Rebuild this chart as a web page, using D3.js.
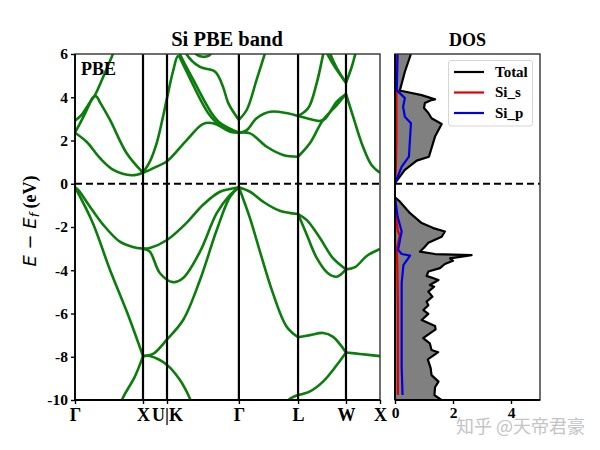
<!DOCTYPE html>
<html><head><meta charset="utf-8">
<style>html,body{margin:0;padding:0;background:#fff}svg{display:block}
text{font-family:"Liberation Serif",serif;font-weight:bold;fill:#000}</style>
<script src="https://cdn.jsdelivr.net/npm/d3@7"></script></head><body>
<script>
// High symmetry points
const kTicks=[0,1,1.353,2.41,3.28,3.985,4.485];
const kLabels=["Γ","X","U|K","Γ","L","W","X"];
const eTicks=[6,4,2,0,-2,-4,-6,-8,-10];
const dosTicks=[0,2,4];
// Bands: [k, E]
const bandGX=[
 [[0,2.36],[.17,1.94],[.37,1.18],[.565,.64],[.834,.39],[1,.51]],
 [[0,2.36],[.1,2.95],[.2,3.6],[.26,3.98],[.31,4.05],[.37,3.75],[.515,2.95],[.76,1.41],[1,.51]],
 [[0,2.92],[.1,3.2],[.2,3.68],[.294,4.1],[.416,4.95],[.565,6.05],[.6,6.3]],
 [[0,-.16],[.05,-.3],[.22,-1.06],[.416,-1.9],[.66,-2.68],[.85,-2.92],[1,-3]],
 [[0,-.16],[.26,-1.8],[.515,-3.99],[.76,-5.9],[1,-7.97]],
 [[.66,-10.5],[.69,-10],[.88,-8.92],[1,-7.97]]
];
const bandXK=[
 [[1,.51],[1.1,.64],[1.2,.79],[1.353,1.04],[1.643,2.02],[1.88,2.76],[2.03,2.8],[2.28,2.41],[2.41,2.36]],
 [[1,.51],[1.1,1.02],[1.2,1.87],[1.28,2.9],[1.353,3.96],[1.44,5.18],[1.515,5.9],[1.6,5.45],[1.70,4.8],[1.96,3.26],[2.13,2.7],[2.41,2.36]],
 [[1.5,6.3],[1.58,5.75],[1.74,4.8],[2.01,3.26],[2.13,2.82],[2.41,2.36]],
 [[1.6,6.4],[1.643,5.98],[1.838,5.4],[2.06,5.18],[2.176,4.49],[2.254,3.73],[2.41,2.95]],
 [[1.72,6.2],[1.8,5.95],[1.88,5.87],[1.97,5.93],[2.05,6.2]],
 [[1,-3],[1.1,-2.97],[1.353,-2.6],[1.643,-1.8],[1.88,-.98],[2.132,-.37],[2.28,-.24],[2.41,-.16]],
 [[1,-3],[1.1,-3.14],[1.25,-4.14],[1.44,-4.55],[1.59,-4.36],[1.838,-3.14],[2.084,-1.36],[2.28,-.52],[2.41,-.16]],
 [[1,-7.97],[1.147,-7.87],[1.353,-7.2],[1.59,-6.3],[1.838,-4.45],[2.084,-2.14],[2.28,-.6],[2.41,-.16]],
 [[1,-7.97],[1.1,-7.97],[1.353,-8.38],[1.544,-9.08],[1.70,-10],[1.75,-10.4]]
];
const bandGL=[
 [[2.41,2.36],[2.574,2.33],[2.82,1.71],[3.06,1.33],[3.28,1.25]],
 [[2.41,2.36],[2.525,2.48],[2.67,3.03],[2.87,3.33],[3.11,3.27],[3.28,3.13]],
 [[2.41,2.95],[2.525,3.41],[2.67,4.8],[2.79,6],[2.83,6.4]],
 [[2.41,-.16],[2.574,-.37],[2.765,-.83],[3.01,-1.25],[3.28,-1.4]],
 [[2.41,-.16],[2.574,-1.6],[2.72,-3.14],[2.91,-5.06],[3.11,-6.6],[3.28,-7.1]],
 [[3.1,-10.4],[3.14,-10],[3.28,-9.77]]
];
const bandLW=[
 [[3.28,1.25],[3.456,1.88],[3.647,2.95],[3.85,3.64],[3.985,4.15]],
 [[3.28,3.13],[3.41,3.03],[3.60,2.9],[3.676,3],[3.85,3.8],[3.985,4.15]],
 [[3.28,3.13],[3.43,3.5],[3.554,4.65],[3.647,5.95],[3.69,6.5]],
 [[3.66,6.4],[3.72,5.95],[3.82,5.41],[3.985,4.67]],
 [[3.71,6.4],[3.76,5.95],[3.85,5.35],[3.985,4.67]],
 [[3.28,-1.4],[3.41,-1.68],[3.60,-2.5],[3.79,-3.43],[3.985,-3.96]],
 [[3.28,-1.4],[3.41,-2.37],[3.554,-3.43],[3.72,-4.14],[3.85,-4.3],[3.985,-3.96]],
 [[3.28,-7.1],[3.456,-7],[3.647,-6.9],[3.79,-7.07],[3.985,-7.8]],
 [[3.28,-9.77],[3.456,-9.6],[3.647,-9.15],[3.85,-8.38],[3.985,-7.8]]
];
const bandWX=[
 [[3.985,4.67],[4.07,5.41],[4.118,5.95],[4.16,6.4]],
 [[3.985,4.15],[4.09,3.1],[4.235,1.71],[4.36,.87],[4.485,.51]],
 [[3.985,-3.96],[4.118,-3.86],[4.29,-3.34],[4.485,-3.02]],
 [[3.985,-7.8],[4.19,-7.87],[4.485,-7.97]]
];
// DOS: [E, value]
const dosTotalUp=[[6,.55],[5.18,.34],[4.33,.17],[4.3,.2],[4.1,.92],[3.9,1.38],[3.87,1.26],[3.73,1.03],[3.5,1],[3.27,1.15],[3.03,1.26],[2.76,1.61],[2.18,1.38],[1.25,1.17],[1.07,.75],[.64,.34],[.03,0]];
const dosTotalDown=[[-.63,0],[-.83,.17],[-1.36,.52],[-1.82,.92],[-2.05,1.32],[-2.21,1.72],[-2.45,1.61],[-2.73,1.15],[-2.91,1.03],[-3.14,.86],[-3.25,1.38],[-3.3,2.64],[-3.37,2.3],[-3.45,1.9],[-3.56,2],[-3.71,1.72],[-3.9,1.55],[-4.06,1.15],[-4.26,1.09],[-4.45,1.5],[-4.68,1.2],[-4.76,1.35],[-4.99,1.15],[-5.22,1.29],[-5.45,1.09],[-5.62,1.15],[-5.84,.98],[-6.02,1.15],[-6.3,.92],[-6.58,1.38],[-6.73,1.4],[-7.14,.97],[-7.38,1.2],[-7.69,1.26],[-7.79,1.49],[-8.12,1.13],[-8.53,1.23],[-8.85,1.26],[-9.15,1.5],[-9.41,1.38],[-9.77,1.36],[-10,1.6]];
const dosPUp=[[6,.09],[4.33,.06],[3.96,.34],[3.56,.28],[3.1,.34],[2.8,.55],[1.25,.48],[.79,.23],[.03,0]];
const dosPDown=[[-.63,0],[-1.52,.09],[-2.21,.23],[-2.6,.17],[-3.06,.11],[-3.25,.23],[-3.32,.52],[-3.76,.29],[-4.6,.23],[-5.8,.23],[-6.9,.23],[-8.46,.23],[-9.77,.26]];
const dosSUp=[[6,.03],[4.33,.05],[2,.05],[.7,.03],[.03,0]];
const dosSDown=[[-.63,0],[-1.5,.03],[-2.2,.1],[-2.4,.17],[-3,.06],[-3.8,.08],[-5.8,.1],[-6.9,.1],[-9.77,.1]];
const legendNames=["Total","Si_s","Si_p"];
const legendColors=["#000","#e00000","#0000e0"];

const svg=d3.select("body").append("svg").attr("width",600).attr("height",450);
const L={l:75,r:380,t:54,b:400},R={l:395,r:540};
const x=d3.scaleLinear().domain([0,4.485]).range([L.l,L.r]);
const y=d3.scaleLinear().domain([-10,6]).range([L.b,L.t]);
const xd=d3.scaleLinear().domain([0,5]).range([R.l,R.r]);
const defs=svg.append("defs");
defs.append("clipPath").attr("id","c1").append("rect").attr("x",L.l).attr("y",L.t).attr("width",L.r-L.l).attr("height",L.b-L.t);
defs.append("clipPath").attr("id","c2").append("rect").attr("x",R.l).attr("y",L.t).attr("width",R.r-R.l).attr("height",L.b-L.t);

// band panel
const g1=svg.append("g").attr("clip-path","url(#c1)");
const lineB=d3.line().x(d=>x(d[0])).y(d=>y(d[1])).curve(d3.curveCatmullRom.alpha(.5));
g1.selectAll(".b").data([...bandGX,...bandXK,...bandGL,...bandLW,...bandWX]).enter().append("path")
 .attr("d",lineB).attr("fill","none").attr("stroke","#0b7d0b").attr("stroke-width",2.6).attr("stroke-linejoin","round");
g1.selectAll(".v").data(kTicks.slice(1,-1)).enter().append("line")
 .attr("x1",d=>x(d)).attr("x2",d=>x(d)).attr("y1",L.t).attr("y2",L.b).attr("stroke","#000").attr("stroke-width",2.2);
g1.append("line").attr("x1",L.l).attr("x2",L.r).attr("y1",y(0)).attr("y2",y(0)).attr("stroke","#000").attr("stroke-width",2.2).attr("stroke-dasharray","7,4");

function frame(l,r){
 svg.append("rect").attr("x",l).attr("y",L.t).attr("width",r-l).attr("height",L.b-L.t).attr("fill","none").attr("stroke","#333").attr("stroke-width",1.4);
 svg.append("line").attr("x1",l).attr("x2",l).attr("y1",L.t).attr("y2",L.b).attr("stroke","#000").attr("stroke-width",1.8);
 svg.append("line").attr("x1",l).attr("x2",r).attr("y1",L.b).attr("y2",L.b).attr("stroke","#000").attr("stroke-width",1.8);
}
frame(L.l,L.r);
const styleAxis=(g,fs)=>{g.select(".domain").remove();g.selectAll("line").attr("stroke","#000").attr("stroke-width",1.4);
 g.selectAll("text").style("font-size",fs+"px").style("font-family",'"Liberation Serif",serif').style("font-weight","bold");};
svg.append("g").attr("transform",`translate(${L.l},0)`)
 .call(d3.axisLeft(y).tickValues(eTicks).tickFormat(String).tickSize(4).tickPadding(3)).call(styleAxis,15.5);
svg.append("g").attr("transform",`translate(0,${L.b})`)
 .call(d3.axisBottom(x).tickValues(kTicks).tickFormat((d,i)=>kLabels[i]).tickSize(4).tickPadding(4)).call(styleAxis,18);

svg.append("text").attr("x",227).attr("y",46).attr("text-anchor","middle").style("font-size","20.5px").text("Si PBE band");
svg.append("text").attr("x",81).attr("y",75).style("font-size","18px").text("PBE");
const yl=svg.append("text").attr("transform","translate(36,221) rotate(-90)").attr("text-anchor","middle").style("font-size","18px").style("font-weight","normal");
yl.append("tspan").style("font-family","DejaVu Sans").style("font-style","italic").style("font-weight","normal").text("E");
yl.append("tspan").style("font-family","DejaVu Sans").style("font-weight","normal").text(" − ");
yl.append("tspan").style("font-family","DejaVu Sans").style("font-style","italic").style("font-weight","normal").text("E");
yl.append("tspan").attr("dy",3).style("font-size","12.5px").style("font-family","DejaVu Sans").style("font-style","italic").style("font-weight","normal").text("f");
yl.append("tspan").attr("dy",-3).style("font-family","Liberation Serif").style("font-weight","bold").text(" (eV)");

// DOS panel
const g2=svg.append("g").attr("clip-path","url(#c2)");
const areaD=d3.area().y(d=>y(d[0])).x0(xd(0)).x1(d=>xd(d[1]));
const lineD=d3.line().y(d=>y(d[0])).x(d=>xd(d[1]));
[dosTotalUp,dosTotalDown].forEach(s=>g2.append("path").attr("d",areaD(s)).attr("fill","#808080"));
[[dosTotalUp,dosTotalDown],[dosSUp,dosSDown],[dosPUp,dosPDown]].forEach((p,i)=>p.forEach(s=>
 g2.append("path").attr("d",lineD(s)).attr("fill","none").attr("stroke",legendColors[i]).attr("stroke-width",2.2).attr("stroke-linejoin","round")));
g2.append("line").attr("x1",R.l).attr("x2",xd(0)).attr("y1",y(0)).attr("y2",y(-.63)).attr("stroke","#0000a0").attr("stroke-width",1.6);
g2.append("line").attr("x1",R.l).attr("x2",R.r).attr("y1",y(0)).attr("y2",y(0)).attr("stroke","#000").attr("stroke-width",2.2).attr("stroke-dasharray","7,4");
frame(R.l,R.r);
svg.append("g").attr("transform",`translate(0,${L.b})`)
 .call(d3.axisBottom(xd).tickValues(dosTicks).tickFormat(String).tickSize(4).tickPadding(3)).call(styleAxis,15.5);
svg.append("text").attr("x",467.5).attr("y",46).attr("text-anchor","middle").style("font-size","18px").text("DOS");

// legend
svg.append("rect").attr("x",448.5).attr("y",60.5).attr("width",84).attr("height",65.5).attr("rx",2.5).attr("fill","#fff").attr("fill-opacity",.9).attr("stroke","#d5d5d5").attr("stroke-width",1);
legendNames.forEach((n,i)=>{
 const ly=72+i*20.5;
 svg.append("line").attr("x1",454).attr("x2",484).attr("y1",ly).attr("y2",ly).attr("stroke",legendColors[i]).attr("stroke-width",2.2);
 svg.append("text").attr("x",495).attr("y",ly+4.5).style("font-size","15px").text(n);
});
// watermark
svg.append("text").attr("x",456).attr("y",433).style("font-family",'"Noto Sans CJK SC"').style("font-weight","normal").style("font-size","18px").style("fill","#c4c4c4").text("知乎 @天帝君豪");
</script></body></html>
